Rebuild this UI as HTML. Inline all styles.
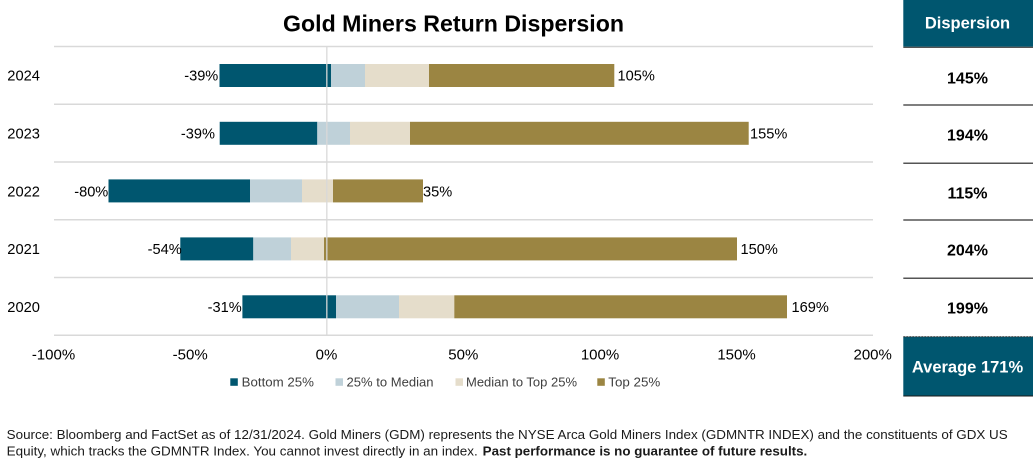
<!DOCTYPE html>
<html>
<head>
<meta charset="utf-8">
<style>
  html,body{margin:0;padding:0;background:#fff;}
  svg{display:block;}
  text{font-family:"Liberation Sans",Arial,sans-serif;}
</style>
</head>
<body>
<svg width="1033" height="462" viewBox="0 0 1033 462" xmlns="http://www.w3.org/2000/svg">
  <!-- Title -->
  <text x="453.5" y="31.7" text-anchor="middle" font-size="23" font-weight="bold" fill="#000" textLength="341" lengthAdjust="spacingAndGlyphs">Gold Miners Return Dispersion</text>

  <!-- gridlines -->
  <g stroke="#d9d9d9" stroke-width="1.5">
    <line x1="54" y1="46.5" x2="873" y2="46.5"/>
    <line x1="54" y1="104.3" x2="873" y2="104.3"/>
    <line x1="54" y1="162" x2="873" y2="162"/>
    <line x1="54" y1="219.8" x2="873" y2="219.8"/>
    <line x1="54" y1="277.5" x2="873" y2="277.5"/>
    <line x1="54" y1="335.3" x2="873" y2="335.3"/>
  </g>

  <!-- bars -->
  <!-- 2024 -->
  <rect x="219.5" y="64" width="111.5" height="23" fill="#00566f"/>
  <rect x="331" y="64" width="34" height="23" fill="#bfd1d9"/>
  <rect x="365" y="64" width="64" height="23" fill="#e5ddcb"/>
  <rect x="429" y="64" width="185.3" height="23" fill="#9b8542"/>
  <!-- 2023 -->
  <rect x="219.7" y="121.8" width="97.6" height="23" fill="#00566f"/>
  <rect x="317.3" y="121.8" width="32.7" height="23" fill="#bfd1d9"/>
  <rect x="350" y="121.8" width="60" height="23" fill="#e5ddcb"/>
  <rect x="410" y="121.8" width="338.7" height="23" fill="#9b8542"/>
  <!-- 2022 -->
  <rect x="108.5" y="179.4" width="141.5" height="23" fill="#00566f"/>
  <rect x="250" y="179.4" width="52" height="23" fill="#bfd1d9"/>
  <rect x="302" y="179.4" width="31" height="23" fill="#e5ddcb"/>
  <rect x="333" y="179.4" width="90" height="23" fill="#9b8542"/>
  <!-- 2021 -->
  <rect x="180.3" y="237.4" width="73" height="23" fill="#00566f"/>
  <rect x="253.3" y="237.4" width="37.7" height="23" fill="#bfd1d9"/>
  <rect x="291" y="237.4" width="33" height="23" fill="#e5ddcb"/>
  <rect x="324" y="237.4" width="413" height="23" fill="#9b8542"/>
  <!-- 2020 -->
  <rect x="242.4" y="295.3" width="93.6" height="23" fill="#00566f"/>
  <rect x="336" y="295.3" width="63" height="23" fill="#bfd1d9"/>
  <rect x="399" y="295.3" width="55.3" height="23" fill="#e5ddcb"/>
  <rect x="454.3" y="295.3" width="332.7" height="23" fill="#9b8542"/>

  <!-- zero line -->
  <line x1="326.8" y1="46.5" x2="326.8" y2="335.3" stroke="#d9d9d9" stroke-width="1.5" opacity="0.85"/>

  <!-- year labels -->
  <g font-size="14.7" fill="#000">
    <text x="7.3" y="80.6">2024</text>
    <text x="7.3" y="138.5">2023</text>
    <text x="7.3" y="196.3">2022</text>
    <text x="7.3" y="254.2">2021</text>
    <text x="7.3" y="312.2">2020</text>
  </g>

  <!-- data labels -->
  <g font-size="14.6" fill="#000">
    <text x="218.3" y="80.6" text-anchor="end">-39%</text>
    <text x="617.5" y="80.6">105%</text>
    <text x="215" y="138.5" text-anchor="end">-39%</text>
    <text x="750" y="138.5">155%</text>
    <text x="108.3" y="196.3" text-anchor="end">-80%</text>
    <text x="423" y="196.3">35%</text>
    <text x="181.7" y="254.2" text-anchor="end">-54%</text>
    <text x="740.5" y="254.2">150%</text>
    <text x="241.7" y="312.2" text-anchor="end">-31%</text>
    <text x="791.5" y="312.2">169%</text>
  </g>

  <!-- x-axis tick labels -->
  <g font-size="15" fill="#000" text-anchor="middle">
    <text x="53.5" y="359.3">-100%</text>
    <text x="190.2" y="359.3">-50%</text>
    <text x="326.5" y="359.3">0%</text>
    <text x="463.3" y="359.3">50%</text>
    <text x="600" y="359.3">100%</text>
    <text x="736.5" y="359.3">150%</text>
    <text x="872.7" y="359.3">200%</text>
  </g>

  <!-- legend -->
  <g font-size="13" fill="#404040">
    <rect x="230.3" y="378.3" width="7.5" height="7.5" fill="#00566f"/>
    <text x="241.7" y="386.7" textLength="72.3" lengthAdjust="spacingAndGlyphs">Bottom 25%</text>
    <rect x="335.5" y="378.3" width="7.5" height="7.5" fill="#bfd1d9"/>
    <text x="346.5" y="386.7" textLength="87" lengthAdjust="spacingAndGlyphs">25% to Median</text>
    <rect x="455.5" y="378.3" width="7.5" height="7.5" fill="#e5ddcb"/>
    <text x="466" y="386.7" textLength="111" lengthAdjust="spacingAndGlyphs">Median to Top 25%</text>
    <rect x="597.3" y="378.3" width="7.5" height="7.5" fill="#9b8542"/>
    <text x="608.3" y="386.7" textLength="52" lengthAdjust="spacingAndGlyphs">Top 25%</text>
  </g>

  <!-- right panel -->
  <rect x="903.3" y="0" width="130" height="46.7" fill="#00566f"/>
  <line x1="903.3" y1="47.2" x2="1033" y2="47.2" stroke="#1a1a1a" stroke-width="1"/>
  <text x="967.5" y="28.3" text-anchor="middle" font-size="16.5" font-weight="bold" fill="#fff">Dispersion</text>

  <g stroke="#555" stroke-width="1.5">
    <line x1="903.3" y1="105" x2="1033" y2="105"/>
    <line x1="903.3" y1="163.3" x2="1033" y2="163.3"/>
    <line x1="903.3" y1="220" x2="1033" y2="220"/>
    <line x1="903.3" y1="278.3" x2="1033" y2="278.3"/>
  </g>

  <g font-size="16" font-weight="bold" fill="#000" text-anchor="middle">
    <text x="967.5" y="83.3">145%</text>
    <text x="967.5" y="140.7">194%</text>
    <text x="967.5" y="198.3">115%</text>
    <text x="967.5" y="255.7">204%</text>
    <text x="967.5" y="313.7">199%</text>
  </g>

  <rect x="903.3" y="336.7" width="130" height="59" fill="#00566f"/>
  <line x1="903.3" y1="336.7" x2="1033" y2="336.7" stroke="#333" stroke-width="1" stroke-dasharray="2,1"/>
  <line x1="903.3" y1="396" x2="1033" y2="396" stroke="#1a1a1a" stroke-width="1"/>
  <text x="967.5" y="372.3" text-anchor="middle" font-size="16.5" font-weight="bold" fill="#fff">Average 171%</text>

  <!-- footer -->
  <g font-size="13" fill="#1a1a1a">
    <text x="6.7" y="439" textLength="1001" lengthAdjust="spacingAndGlyphs">Source: Bloomberg and FactSet as of 12/31/2024. Gold Miners (GDM) represents the NYSE Arca Gold Miners Index (GDMNTR INDEX) and the constituents of GDX US</text>
    <text x="6.7" y="455.7" textLength="471" lengthAdjust="spacingAndGlyphs">Equity, which tracks the GDMNTR Index. You cannot invest directly in an index.</text>
    <text x="482.7" y="455.7" font-weight="bold" textLength="324.6" lengthAdjust="spacingAndGlyphs">Past performance is no guarantee of future results.</text>
  </g>
</svg>
</body>
</html>
